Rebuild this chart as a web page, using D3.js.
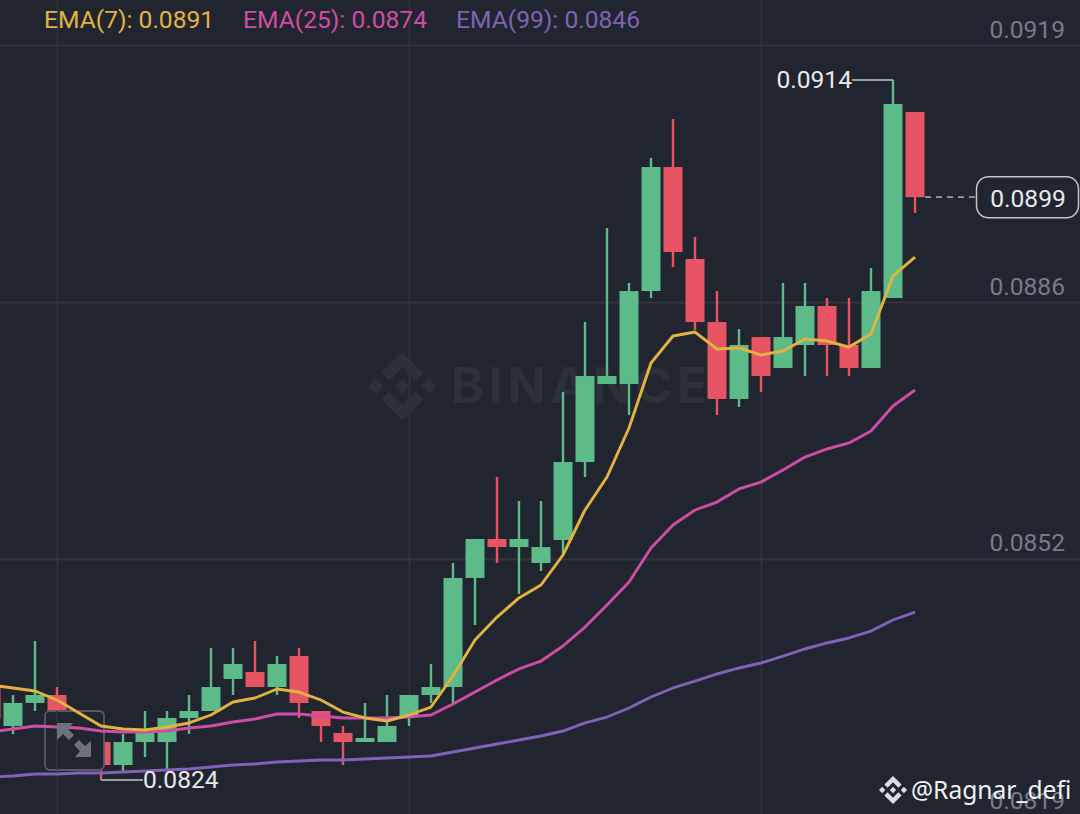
<!DOCTYPE html>
<html><head><meta charset="utf-8">
<script src="https://cdn.jsdelivr.net/npm/d3@7/dist/d3.min.js"></script>
<style>html,body{margin:0;padding:0;background:#21252f;overflow:hidden}svg{display:block}text{font-family:Roboto,sans-serif}</style>
</head><body><svg id="c" width="1080" height="814"></svg>
<script>
const opens=[.083630,.083131,.083426,.083528,.083131,.082926,.082632,.082926,.082926,.083234,.083323,.083733,.083822,.083630,.084027,.083323,.083042,.082926,.082926,.083246,.083528,.083630,.085026,.085525,.085422,.085218,.085512,.086510,.087509,.087509,.088699,.090286,.089109,.088302,.087317,.088110,.087714,.088008,.088507,.088008,.087714,.088610,.090990];
const highs=[.083720,.083528,.084219,.083630,.083336,.083016,.083029,.083323,.083323,.083528,.084130,.084130,.084219,.084027,.084130,.083323,.083131,.083426,.083528,.083528,.083925,.085218,.085525,.086318,.086011,.086011,.087406,.088302,.089506,.088802,.090402,.090901,.089390,.088699,.088213,.088110,.088802,.088802,.088610,.088610,.088994,.091400,.090990];
const lows=[.083144,.083029,.083323,.083080,.082850,.082440,.082542,.082734,.082581,.083029,.083323,.083528,.083630,.083528,.083234,.082926,.082632,.082926,.082926,.083131,.083426,.083426,.084424,.085218,.084821,.085115,.085320,.086318,.087509,.087112,.088610,.089006,.088200,.087112,.087214,.087406,.087714,.087611,.087611,.087611,.087714,.088610,.089698];
const closes=[.083234,.083426,.083528,.083131,.082926,.082632,.082926,.083042,.083234,.083323,.083630,.083925,.083630,.083925,.083426,.083131,.082926,.082978,.083131,.083528,.083630,.085026,.085525,.085422,.085525,.085422,.086510,.087611,.087611,.088699,.090286,.089198,.088302,.087317,.088008,.087611,.088110,.088507,.088008,.087714,.088699,.091093,.089900];
const ema7=[.083656,.083618,.083579,.083464,.083298,.083131,.083093,.083080,.083118,.083170,.083272,.083438,.083490,.083605,.083566,.083464,.083310,.083234,.083195,.083272,.083374,.083771,.084232,.084526,.084770,.084936,.085320,.085896,.086318,.086946,.087778,.088123,.088174,.087957,.087970,.087880,.087931,.088085,.088059,.087982,.088149,.088891,.089134];
const ema25=[.083054,.083093,.083131,.083118,.083106,.083067,.083054,.083054,.083067,.083106,.083131,.083182,.083221,.083285,.083285,.083259,.083234,.083234,.083234,.083246,.083272,.083413,.083566,.083720,.083861,.083963,.084155,.084398,.084680,.084974,.085410,.085704,.085896,.085998,.086165,.086254,.086408,.086574,.086677,.086754,.086907,.087227,.087432];
const ema99=[.082478,.082491,.082517,.082517,.082530,.082530,.082542,.082555,.082568,.082581,.082606,.082632,.082645,.082670,.082683,.082696,.082696,.082709,.082722,.082734,.082747,.082798,.082850,.082901,.082952,.083003,.083067,.083170,.083246,.083362,.083502,.083618,.083707,.083797,.083874,.083938,.084027,.084117,.084194,.084258,.084347,.084488,.084590];
const gridPrices=[.091848,.088558,.085269,.081979];
const gridLabels=["0.0919","0.0886","0.0852","0.0819"];
const gridCandles=[3,19,35];
const legend=[["EMA(7): 0.0891","#e3b341",44],["EMA(25): 0.0874","#cf4ea5",243],["EMA(99): 0.0846","#7f63b6",456]];
const highText="0.0914",lowText="0.0824",lastText="0.0899";
const highPrice=.0914,lowPrice=.08244,lastPrice=.0899;
const highIdx=41,lowIdx=5,lastIdx=42;

const W=1080,H=814,BG="#21252f",UP="#5dba89",DOWN="#e75463",GRID="#30343f",FS="24.6px";
const logo="M38.73 53.2l24.59-24.58 24.6 24.6 14.3-14.31L63.32 0 24.43 38.89 38.73 53.2zM0 63.31l14.3-14.31 14.31 14.31-14.31 14.3zM38.73 73.41l24.59 24.59 24.6-24.59 14.31 14.29-38.9 38.91-38.91-38.88-.02-.02zM98.3 63.32l14.3-14.31 14.31 14.3-14.31 14.32zM77.83 63.3L63.32 48.78 52.59 59.51l-1.24 1.23-2.54 2.54 14.51 14.5 14.51-14.47z";

const x=d3.scaleLinear().domain([0,42]).range([-9,915]);
const y=d3.scaleLinear().domain([.0914,.0824]).range([80,783.125]);
const svg=d3.select("#c");
svg.append("rect").attr("width",W).attr("height",H).attr("fill",BG);

// grid lines
const gl=svg.append("g").attr("transform",`translate(${W},0)`).call(d3.axisLeft(y).tickValues(gridPrices).tickSize(W).tickFormat(""));
gl.select(".domain").remove();
gl.selectAll("line").attr("stroke",GRID).attr("stroke-width",2);
const gx=svg.append("g").call(d3.axisBottom(x).tickValues(gridCandles).tickSize(H).tickFormat(""));
gx.select(".domain").remove();
gx.selectAll("line").attr("stroke",GRID).attr("stroke-width",1.6);

// background mark
svg.append("path").attr("d",logo).attr("transform","translate(368,352) scale(.542)").attr("fill","#2c3039");
svg.append("text").attr("x",451).attr("y",403).attr("textLength",256).attr("lengthAdjust","spacing")
  .style("font-family","Inter,sans-serif").style("font-weight",700).style("font-size","50px").attr("fill","#2c3039").text("BINANCE");

// candles
const idx=d3.range(opens.length);
const col=i=>closes[i]>=opens[i]?UP:DOWN;
const cg=svg.append("g");
cg.selectAll("line").data(idx).join("line")
  .attr("x1",i=>x(i)).attr("x2",i=>x(i)).attr("y1",i=>y(highs[i])).attr("y2",i=>y(lows[i]))
  .attr("stroke",col).attr("stroke-width",2.4);
cg.selectAll("rect").data(idx).join("rect")
  .attr("x",i=>x(i)-9.5).attr("width",19)
  .attr("y",i=>y(Math.max(opens[i],closes[i])))
  .attr("height",i=>Math.max(2,Math.abs(y(opens[i])-y(closes[i]))))
  .attr("fill",col);

// expand control (panel sits over the candles, lines stay visible)
svg.append("rect").attr("x",45).attr("y",711).attr("width",59).attr("height",59).attr("rx",5)
  .attr("fill",BG).attr("stroke","#555a65").attr("stroke-width",1.8);
svg.append("line").attr("x1",57).attr("x2",57).attr("y1",711).attr("y2",770).attr("stroke",GRID).attr("stroke-width",1.6);

// EMA lines
const ln=d3.line().x((d,i)=>x(i)).y(d=>y(d));
[[ema99,"#7f63b6"],[ema25,"#cf4ea5"],[ema7,"#e3b341"]].forEach(([s,c])=>{
  svg.append("path").attr("d",ln(s)).attr("fill","none").attr("stroke",c).attr("stroke-width",2.9).attr("stroke-linejoin","round");
});

// expand icon
svg.append("path").attr("d","M57 723H73L68 729L74 735L69 740L63 734L57 740Z M91 757H75L80 751L74 745L79 740L85 746L91 741Z").attr("fill","#6d717c");

// high / low / last annotations
const leader="#9a9da4",label="#e8e9eb";
svg.append("path").attr("d",`M${x(highIdx)} ${y(highPrice)}H${x(highIdx)-41}`).attr("fill","none").attr("stroke",leader).attr("stroke-width",1.8);
svg.append("text").attr("x",x(highIdx)-41).attr("y",y(highPrice)+8).attr("text-anchor","end").style("font-size",FS).attr("fill",label).text(highText);
svg.append("path").attr("d",`M${x(lowIdx)} ${y(lowPrice)}H${x(lowIdx)+42}`).attr("fill","none").attr("stroke",leader).attr("stroke-width",1.8);
svg.append("text").attr("x",x(lowIdx)+42).attr("y",y(lowPrice)+8).style("font-size",FS).attr("fill",label).text(lowText);
svg.append("line").attr("x1",x(lastIdx)+10).attr("x2",976).attr("y1",y(lastPrice)).attr("y2",y(lastPrice)).attr("stroke",leader).attr("stroke-width",1.8).attr("stroke-dasharray","6 5");
svg.append("rect").attr("x",976.5).attr("y",y(lastPrice)-20.5).attr("width",102).attr("height",41).attr("rx",12).attr("fill",BG).attr("stroke","#c4c6ca").attr("stroke-width",1.5);
svg.append("text").attr("x",1028).attr("y",y(lastPrice)+10).attr("text-anchor","middle").style("font-size",FS).attr("fill",label).text(lastText);

// price labels
const gt=svg.append("g").attr("transform",`translate(${W},0)`).call(d3.axisLeft(y).tickValues(gridPrices).tickSize(0).tickFormat((d,i)=>gridLabels[i]));
gt.select(".domain").remove();
gt.selectAll("line").remove();
gt.selectAll("text").attr("x",-15).attr("dy",0).attr("y",-8).attr("text-anchor","end")
  .style("font-size",FS).style("font-family","Roboto,sans-serif").attr("fill","#767b87");

// legend
svg.selectAll(".lg").data(legend).join("text").attr("class","lg").attr("x",d=>d[2]).attr("y",28).attr("fill",d=>d[1])
  .style("font-size",FS).text(d=>d[0]);

// author mark
svg.append("path").attr("d",logo).attr("transform","translate(879,776) scale(.221)").attr("fill","#dcdddf");
svg.append("text").attr("x",911).attr("y",799).style("font-family","'Noto Sans',sans-serif").style("font-size",FS).attr("fill","#f2f2f3").text("@Ragnar_defi");
</script></body></html>
